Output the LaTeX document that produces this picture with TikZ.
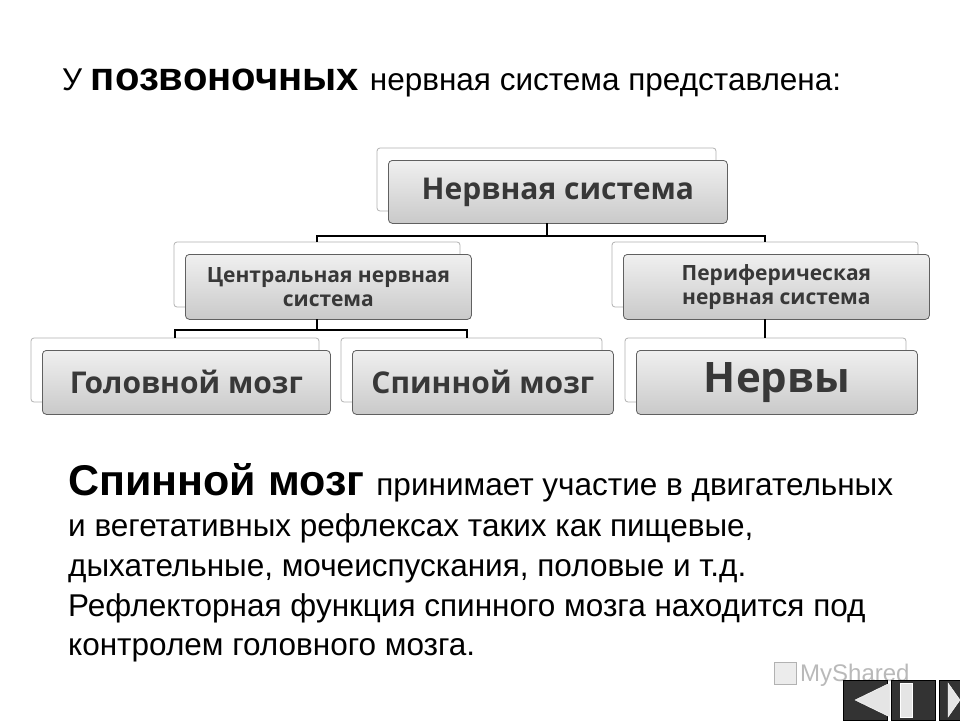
\documentclass[tikz,border=0pt]{standalone}
\usepackage{fontspec}
\setmainfont{Liberation Sans}
\newfontfamily\bx{Open Sans}
\begin{document}
\begin{tikzpicture}[x=1pt,y=-1pt,
 back/.style={draw=gray!60,fill=white,rounded corners=3pt,line width=0.8pt},
 front/.style={draw=gray!75!black,rounded corners=4pt,top color=gray!12,bottom color=gray!42,line width=0.8pt,text=black!78,align=center},
 conn/.style={line width=1.6pt}]
\useasboundingbox (0,0) rectangle (960,720);
\fill[white] (0,0) rectangle (960,720);
\node[anchor=base west,inner sep=0] (title) at (62,90) {\fontsize{31.5}{34}\selectfont У \fontsize{40}{42}\selectfont\bfseries позвоночных \fontsize{31.5}{34}\selectfont\mdseries нервная система представлена:};
\newcommand\mybox[7]{%
 \draw[back] (#1-11,#2-12) rectangle (#3-11,#4-12);
 \node[front,minimum width=#3-#1,minimum height=#4-#2,anchor=north west,font=#6] (#5) at (#1,#2) {#7};}
\mybox{388}{160}{727}{223}{ns}{\bx\bfseries\fontsize{30}{34}\selectfont}{Нервная система}
\mybox{185}{254}{471}{319}{cns}{\bx\bfseries\fontsize{21}{24}\selectfont}{Центральная нервная\\система}
\mybox{623}{254}{929}{319}{pns}{\bx\bfseries\fontsize{21}{24}\selectfont}{Периферическая\\нервная система}
\mybox{42}{350}{330}{414}{gm}{\bx\bfseries\fontsize{30}{34}\selectfont}{Головной мозг}
\mybox{352}{350}{613}{414}{sm}{\bx\bfseries\fontsize{30}{34}\selectfont}{Спинной мозг}
\mybox{636}{350}{917}{414}{nv}{\bx\bfseries\fontsize{42}{46}\selectfont\raisebox{-5pt}{Нервы}}{}
\coordinate (j1) at (547,236);
\coordinate (j2) at (317,330);
\coordinate (j3) at (765,338);
\draw[conn] (547,223) -- (j1);
\draw[conn] (317,242) -- (317,236) -- (765,236) -- (765,242);
\draw[conn] (317,319) -- (j2);
\draw[conn] (175,338) -- (175,330) -- (467,330) -- (467,338);
\draw[conn] (765,319) -- (j3);
\node[anchor=base west,inner sep=0] (txt) at (68,495) {\fontsize{43}{46}\selectfont\bfseries Спинной мозг \fontsize{31.5}{34}\selectfont\mdseries принимает участие в двигательных};
\node[anchor=base west,inner sep=0] (t2) at (68,536) {\fontsize{31.5}{34}\selectfont и вегетативных рефлексах таких как пищевые,};
\node[anchor=base west,inner sep=0] (t3) at (68,576) {\fontsize{31.5}{34}\selectfont дыхательные, мочеиспускания, половые и т.д.};
\node[anchor=base west,inner sep=0] (t4) at (68,616) {\fontsize{31.5}{34}\selectfont Рефлекторная функция спинного мозга находится под};
\node[anchor=base west,inner sep=0] (t5) at (68,655) {\fontsize{31.5}{34}\selectfont контролем головного мозга.};
\node[anchor=west,text=gray!55,inner sep=0] (wm) at (800,675) {\fontsize{24}{26}\selectfont MyShared};
\node[draw=gray!60,fill=gray!15,minimum width=22pt,minimum height=22pt,inner sep=0] (ic) at (785,673) {};
\foreach \xa/\n in {845/b1,893/b2,941/b3}{\node[draw=black,fill=black!80,minimum width=44pt,minimum height=40pt,inner sep=0] (\n) at (\xa+20,700) {};}
\fill[gray!20,draw=white] (890,683) -- (890,717) -- (855,700) -- cycle;
\fill[gray!20,draw=white] (912,683) -- (912,717) -- (900,717) -- (900,683) -- cycle;
\fill[gray!20,draw=white] (948,683) -- (948,717) -- (960,700) -- cycle;
\end{tikzpicture}
\end{document}
